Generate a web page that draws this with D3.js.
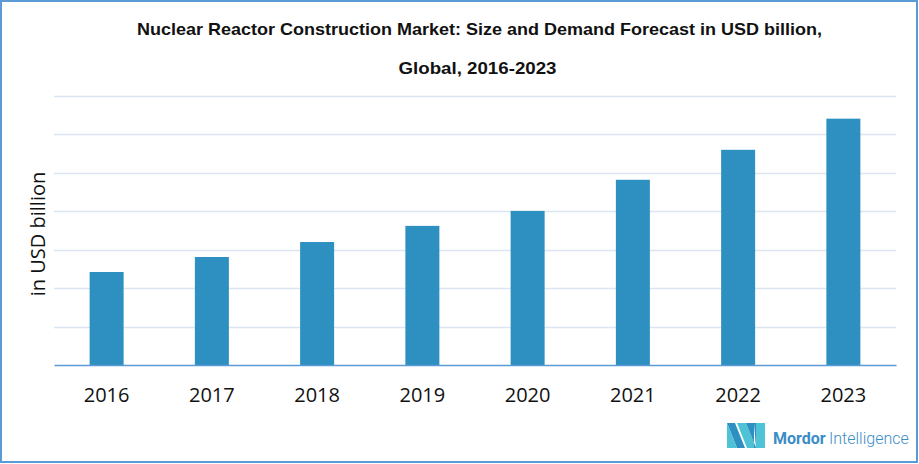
<!DOCTYPE html>
<html>
<head>
<meta charset="utf-8">
<script src="https://cdn.jsdelivr.net/npm/d3@7/dist/d3.min.js"></script>
<style>
html,body{margin:0;padding:0;background:#fff;}
svg{display:block;}
</style>
</head>
<body>
<svg id="chart" width="919" height="464"></svg>
<script>
const categories = ["2016","2017","2018","2019","2020","2021","2022","2023"];
const values = [24.2, 28.1, 32.0, 36.2, 40.1, 48.2, 56.0, 64.1];
const yTicks = [0, 10, 20, 30, 40, 50, 60, 70];
const titleLines = ["Nuclear Reactor Construction  Market: Size and Demand Forecast in USD billion,", "Global, 2016-2023"];
const yLabel = "in USD billion";

const svg = d3.select("#chart");
const W = 919, H = 464;
const m = {left: 54, right: 23, top: 96, bottom: 99};

// frame
svg.append("rect").attr("x", 1).attr("y", 1).attr("width", W - 3).attr("height", H - 3)
  .attr("fill", "none").attr("stroke", "#5b9bd5").attr("stroke-width", 2);

const x = d3.scaleBand().domain(categories).range([m.left, W - m.right]).paddingInner(0).paddingOuter(0);
const y = d3.scaleLinear().domain([0, 70]).range([H - m.bottom, m.top]);

// gridlines
svg.append("g").selectAll("line").data(yTicks.slice(1)).join("line")
  .attr("x1", m.left).attr("x2", W - m.right)
  .attr("y1", d => Math.round(y(d)) + 0.5).attr("y2", d => Math.round(y(d)) + 0.5)
  .attr("stroke", "#dce6f2").attr("stroke-width", 1.3);

// bars
const bw = x.bandwidth() * 0.323;
svg.append("g").selectAll("rect").data(values).join("rect")
  .attr("x", (d, i) => x(categories[i]) + x.bandwidth() / 2 - bw / 2)
  .attr("width", bw)
  .attr("y", d => y(d))
  .attr("height", d => y(0) - y(d))
  .attr("fill", "#2e8fc1");

// x axis
const xAxis = svg.append("g").attr("transform", `translate(0,${y(0)})`)
  .call(d3.axisBottom(x).tickSize(0).tickPadding(23));
xAxis.select(".domain").attr("stroke", "#5b9bd5").attr("stroke-width", 1.5);
xAxis.selectAll("text").attr("font-family", "Open Sans, Noto Sans, sans-serif")
  .attr("font-size", 20).attr("fill", "#111");

// y label
svg.append("text").attr("transform", `translate(45,234) rotate(-90)`)
  .attr("text-anchor", "middle").attr("font-family", "Open Sans, Noto Sans, sans-serif")
  .attr("font-size", 20).attr("fill", "#111").text(yLabel);

// title
svg.append("g").selectAll("text").data(titleLines).join("text")
  .attr("x", (d, i) => i === 0 ? 479.5 : 477.5).attr("y", (d, i) => 35 + i * 39)
  .attr("text-anchor", "middle")
  .attr("font-family", "Liberation Sans, Arial, sans-serif")
  .attr("font-weight", "bold").attr("font-size", 17).attr("fill", "#111")
  .attr("textLength", (d, i) => i === 0 ? 685 : 158)
  .attr("lengthAdjust", "spacingAndGlyphs")
  .text(d => d);

// logo
const logo = svg.append("g").attr("transform", "translate(727,423)");
logo.append("polygon").attr("points", "0,0 8,0 18,25 10,25").attr("fill", "#2e8fc1");
logo.append("polygon").attr("points", "0,0 0,25 10,25").attr("fill", "#4fc3d6");
logo.append("polygon").attr("points", "10,0 19,0 29,25 20,25").attr("fill", "#4fc3d6");
logo.append("polygon").attr("points", "19,0 27,0 27,25 29,25").attr("fill", "#2e8fc1");
logo.append("polygon").attr("points", "29,0 38,0 38,25 29,25").attr("fill", "#4fc3d6");
logo.append("polygon").attr("points", "27,0 29,0 29,25").attr("fill", "#2e8fc1");
svg.append("text").attr("x", 773).attr("y", 444)
  .attr("font-family", "Roboto, Noto Sans, sans-serif").attr("font-size", 16).attr("fill", "#3a8dc5")
  .attr("font-weight", "bold").text("Mordor");
svg.append("text").attr("x", 829).attr("y", 444)
  .attr("font-family", "Roboto, Noto Sans, sans-serif").attr("font-size", 16).attr("fill", "#3a8dc5")
  .attr("font-weight", "300").text("Intelligence");
</script>
</body>
</html>
